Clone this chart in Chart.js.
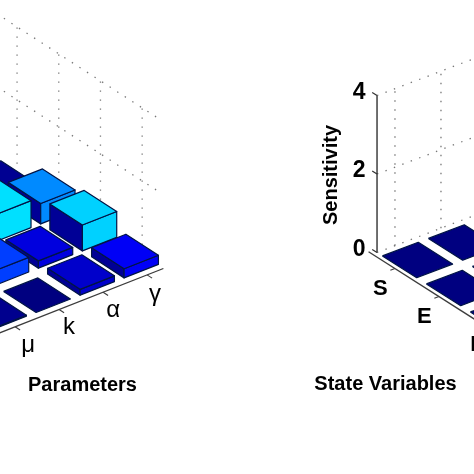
<!DOCTYPE html>
<html>
<head>
<meta charset="utf-8">
<script src="https://cdn.jsdelivr.net/npm/chart.js"></script>
<style>
    html, body { margin: 0; padding: 0; background: #fff; }
    canvas { display: block; }
</style>
</head>
<body>
<canvas id="allCharts" width="474" height="474"></canvas>
<script>
const parameterLabels = ['μ', 'k', 'α', 'γ'];
const parameterRow0 = [0.03, 0.0, 0.16, 0.25];
const parameterRow1 = [null, 0.4, 0.2, 0.71];
const parameterRow2 = [null, null, 0.74, 0.56];
const parameterRow3 = [null, null, null, 0.04];

const stateLabels = ['S', 'E', 'I'];
const stateRow0 = [0.0, 0.0, 0.0];
const stateRow1 = [0.0, 0.0, 0.0];
const stateRow2 = [0.0, null, null];

const sensitivityTicks = [0, 2, 4];

const barHalfWidth = 0.39;

const leftPanel = {
    origin: [-7, 312.5],
    u: [44, -17.3],
    v: [-41.7, -27],
    z: [0, -36.5],
    // left, bottom, right, top corner of a bar on screen
    corners: [[-1, 1], [-1, -1], [1, -1], [1, 1]],
    drawOrder: [3, 2, 1, 0],
    rows: [parameterRow0, parameterRow1, parameterRow2, parameterRow3],
    labels: parameterLabels,
    labelFont: '24px "Liberation Sans"',
    labelOffset: [[8, 15], [5, 15], [5, 15], [3, 16]],
    wallI: 3.39,
    wallStart: -0.335,
    wallEnd: 4.5,
    axisJ: -0.53,
    axisFrom: -0.7,
    axisTo: 3.37,
    tickLength: -0.12,
    title: 'Parameters',
    titlePos: [82.5, 385],
};

const rightPanel = {
    origin: [417.5, 260],
    u: [44, 28],
    v: [46, -17.5],
    z: [0, -39.25],
    corners: [[-1, -1], [1, -1], [1, 1], [-1, 1]],
    drawOrder: [0, 1, 2],
    rows: [stateRow0, stateRow1, stateRow2],
    labels: stateLabels,
    labelFont: 'bold 22px "Liberation Sans"',
    labelOffset: [[-10, 19], [-10, 19], [-5, 19]],
    wallI: -0.512,
    wallStart: -0.39,
    wallEnd: 3,
    axisJ: -0.49,
    axisFrom: -0.6,
    axisTo: 3,
    tickLength: -0.1,
    title: 'State Variables',
    titlePos: [385.5, 384],
};

const project = (panel, i, j, value) => ({
    x: panel.origin[0] + i * panel.u[0] + j * panel.v[0] + value * panel.z[0],
    y: panel.origin[1] + i * panel.u[1] + j * panel.v[1] + value * panel.z[1],
});

// jet colormap, the bars are coloured by their height
const barColor = (value) => {
    const t = Math.min(value / 2.15, 1);
    const ramp = (c) => Math.round(255 * Math.max(0, Math.min(1, 1.5 - Math.abs(4 * t - c))));
    return `rgb(${ramp(3)}, ${ramp(2)}, ${ramp(1)})`;
};

const faceDataset = (points, color) => ({
    type: 'line',
    data: points,
    showLine: true,
    fill: 'shape',
    backgroundColor: color,
    borderColor: 'rgb(0, 20, 70)',
    borderWidth: 1.2,
    borderJoinStyle: 'round',
    pointRadius: 0,
    tension: 0,
});

const strokeDataset = (points, color, width, dash) => ({
    type: 'line',
    data: points,
    showLine: true,
    fill: false,
    borderColor: color,
    borderWidth: width,
    borderDash: dash || [],
    pointRadius: 0,
    tension: 0,
});

const wallDatasets = (panel) => {
    const out = [];
    const dots = [1.4, 7.6];
    const dotColor = 'rgba(95, 95, 95, 0.85)';
    sensitivityTicks.forEach((tick) => {
        out.push(strokeDataset([
            project(panel, panel.wallI, panel.wallStart, tick),
            project(panel, panel.wallI, panel.wallEnd, tick),
        ], dotColor, 1.3, dots));
    });
    panel.rows.forEach((row, j) => {
        out.push(strokeDataset([
            project(panel, panel.wallI, j, 0),
            project(panel, panel.wallI, j, sensitivityTicks[sensitivityTicks.length - 1]),
        ], dotColor, 1.3, dots));
    });
    return out;
};

const axisDatasets = (panel) => {
    const out = [];
    const axisColor = 'rgb(60, 60, 60)';
    out.push(strokeDataset([
        project(panel, panel.axisFrom, panel.axisJ, 0),
        project(panel, panel.axisTo, panel.axisJ, 0),
    ], axisColor, 1.3));
    panel.labels.forEach((label, i) => {
        out.push(strokeDataset([
            project(panel, i, panel.axisJ, 0),
            project(panel, i, panel.axisJ + panel.tickLength, 0),
        ], axisColor, 1.1));
    });
    return out;
};

const barDatasets = (panel) => {
    const out = [];
    for (let j = panel.rows.length - 1; j >= 0; j--) {
        panel.drawOrder.forEach((i) => {
            const value = panel.rows[j][i];
            if (value === null) {
                return;
            }
            const color = barColor(value);
            const corner = (c, level) => project(
                panel,
                i + panel.corners[c][0] * barHalfWidth,
                j + panel.corners[c][1] * barHalfWidth,
                level
            );
            if (value > 0.02) {
                out.push(faceDataset([corner(0, 0), corner(1, 0), corner(1, value), corner(0, value), corner(0, 0)], 'rgb(0, 0, 150)'));
                out.push(faceDataset([corner(1, 0), corner(2, 0), corner(2, value), corner(1, value), corner(1, 0)], color));
            }
            out.push(faceDataset([corner(0, value), corner(1, value), corner(2, value), corner(3, value), corner(0, value)], color));
        });
    }
    return out;
};

// the vertical axis only shows on the right panel, the left one is cut off
const zAxisDatasets = () => {
    const out = [];
    const axisColor = 'rgb(50, 50, 50)';
    const foot = [rightPanel.wallI, rightPanel.wallStart];
    out.push(strokeDataset([
        project(rightPanel, foot[0], foot[1], 0),
        project(rightPanel, foot[0], foot[1], sensitivityTicks[sensitivityTicks.length - 1]),
    ], axisColor, 1.4));
    sensitivityTicks.forEach((tick) => {
        out.push(strokeDataset([
            project(rightPanel, foot[0], foot[1], tick),
            project(rightPanel, foot[0] - 0.11, foot[1], tick),
        ], axisColor, 1.2));
    });
    return out;
};

const painted = [
    ...wallDatasets(leftPanel),
    ...wallDatasets(rightPanel),
    ...axisDatasets(leftPanel),
    ...axisDatasets(rightPanel),
    ...zAxisDatasets(),
    ...barDatasets(leftPanel),
    ...barDatasets(rightPanel),
];

const textPlugin = {
    id: 'panelText',
    afterDatasetsDraw(chart) {
        const { ctx, scales } = chart;
        const put = (text, x, y, font, rotation) => {
            ctx.save();
            ctx.translate(scales.x.getPixelForValue(x), scales.y.getPixelForValue(y));
            if (rotation) {
                ctx.rotate(rotation);
            }
            ctx.font = font;
            ctx.fillStyle = '#000';
            ctx.textAlign = 'center';
            ctx.textBaseline = 'middle';
            ctx.fillText(text, 0, 0);
            ctx.restore();
        };
        [leftPanel, rightPanel].forEach((panel) => {
            panel.labels.forEach((label, i) => {
                const tick = project(panel, i, panel.axisJ + panel.tickLength, 0);
                const offset = panel.labelOffset[i];
                put(label, tick.x + offset[0], tick.y + offset[1], panel.labelFont);
            });
            put(panel.title, panel.titlePos[0], panel.titlePos[1], 'bold 20px "Liberation Sans"');
        });
        sensitivityTicks.forEach((tick) => {
            const at = project(rightPanel, rightPanel.wallI, rightPanel.wallStart, tick);
            put(String(tick), at.x - 18, at.y - 3, 'bold 23px "Liberation Sans"');
        });
        put('Sensitivity', 331, 175, 'bold 20px "Liberation Sans"', -Math.PI / 2);
    },
};

new Chart(document.getElementById('allCharts').getContext('2d'), {
    type: 'scatter',
    data: { datasets: painted.slice().reverse() },
    options: {
        responsive: false,
        animation: false,
        layout: { padding: 0 },
        plugins: {
            legend: { display: false },
            title: { display: false },
            tooltip: { enabled: false },
        },
        scales: {
            x: { type: 'linear', display: false, min: 0, max: 474 },
            y: { type: 'linear', display: false, min: 0, max: 474, reverse: true },
        },
    },
    plugins: [textPlugin],
});
</script>
</body>
</html>
